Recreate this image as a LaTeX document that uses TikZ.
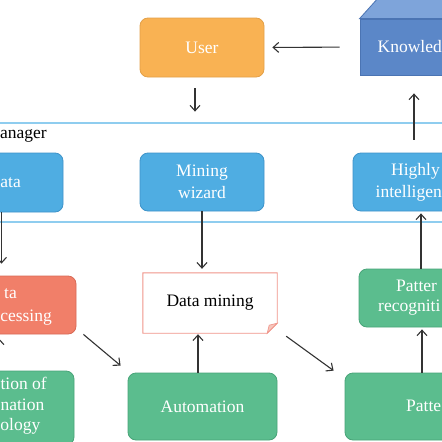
\documentclass[tikz,border=0pt]{standalone}
\usepackage{fontspec}
\setmainfont{Liberation Serif}
\usetikzlibrary{arrows.meta}
\definecolor{cOrange}{HTML}{F9B253}
\definecolor{cOrangeD}{HTML}{E3A048}
\definecolor{cBlue}{HTML}{4FADE2}
\definecolor{cBlueD}{HTML}{3E93C9}
\definecolor{cKnF}{HTML}{5B87C8}
\definecolor{cKnT}{HTML}{7EA4DA}
\definecolor{cKnD}{HTML}{4B74B3}
\definecolor{cSalmon}{HTML}{F17F69}
\definecolor{cSalmonD}{HTML}{D86A56}
\definecolor{cGreen}{HTML}{5BBD8E}
\definecolor{cGreenD}{HTML}{48A478}
\definecolor{cPink}{HTML}{F0958A}
\definecolor{cFold}{HTML}{F7C6BC}
\definecolor{cSep}{HTML}{8FCDEF}
\definecolor{cArrow}{HTML}{333333}
\newcommand\diagfont{\fontsize{17.5}{21.5}\selectfont}
\tikzset{
  box/.style={rounded corners=8pt, line width=0.8pt, inner sep=0pt, text=white, align=center, font=\diagfont},
  bluebox/.style={box, fill=cBlue, draw=cBlueD},
  orangebox/.style={box, fill=cOrange, draw=cOrangeD},
  salmonbox/.style={box, fill=cSalmon, draw=cSalmonD},
  greenbox/.style={box, fill=cGreen, draw=cGreenD},
  frag/.style={inner sep=0pt, font=\diagfont, text=white},
  arr/.style={draw=cArrow, line width=1.1pt, -{Straight Barb[length=5.5pt,width=10pt]}},
  sepline/.style={draw=cSep, line width=1.4pt},
}
\begin{document}
\begin{tikzpicture}[x=1pt,y=-1pt]
\useasboundingbox (0,0) rectangle (442,442);
\clip (0,0) rectangle (442,442);
\fill[white] (0,0) rectangle (442,442);
% separator lines
\coordinate (s1l) at (0,123); \coordinate (s1r) at (442,123);
\coordinate (s2l) at (0,222); \coordinate (s2r) at (442,222);
\draw[sepline] (s1l) -- (s1r);
\draw[sepline] (s2l) -- (s2r);
\node[anchor=base east, inner sep=0pt, font=\diagfont, text=black] (mgr) at (47,138) {anager};
% row 1
\node[orangebox, minimum width=124pt, minimum height=59pt] (user) at (202,47.5) {User};
\node[draw=cKnD, fill=cKnF, line width=0.8pt, inner sep=0pt, minimum width=140pt, minimum height=56pt] (kn) at (430,47) {};
\filldraw[draw=cKnD, fill=cKnT, line width=0.8pt] (kn.north west) -- ++(18,-20) -- ++(140,0) -- (kn.north east) -- cycle;
\node[frag, anchor=base west] (knt) at (377.5,52) {Knowled};
% row 2
\node[bluebox, minimum width=123pt, minimum height=59pt] (data) at (1.5,182.5) {};
\node[frag, anchor=base east] (datat) at (21,187.5) {ata};
\node[bluebox, minimum width=124pt, minimum height=58pt] (mw) at (202,182) {Mining\\wizard};
\node[bluebox, minimum width=122pt, minimum height=58pt] (hi) at (414,182) {};
\node[frag, anchor=base west] (hit1) at (391,175) {Highly};
\node[frag, anchor=base west] (hit2) at (375.5,197) {intelligen};
% row 3
\node[salmonbox, minimum width=154pt, minimum height=58pt] (dp) at (-1,305) {};
\node[frag, anchor=base east] (dpt1) at (17,298) {ta};
\node[frag, anchor=base east] (dpt2) at (52,321) {cessing};
\node[inner sep=0pt, minimum width=134pt, minimum height=60pt] (dm) at (210,303) {};
\draw[draw=cPink, line width=0.9pt, fill=white] (dm.north west) -- (dm.north east) -- ([yshift=10pt]dm.south east) -- ([xshift=-10pt]dm.south east) -- (dm.south west) -- cycle;
\node[inner sep=0pt, font=\diagfont, text=black] (dmt) at (dm) {Data mining};
\filldraw[draw=cPink, fill=cFold, line width=0.7pt] ([yshift=10pt]dm.south east) -- ([xshift=-10pt]dm.south east) -- ([shift={(-8pt,8pt)}]dm.south east) -- cycle;
\node[greenbox, minimum width=120pt, minimum height=58pt] (pr) at (419,298) {};
\node[frag, anchor=base west] (prt1) at (396,291) {Patter};
\node[frag, anchor=base west] (prt2) at (378,311) {recogniti};
% row 4
\node[greenbox, minimum width=150pt, minimum height=74pt] (re) at (-1,408) {};
\node[frag, anchor=base east] (ret1) at (47,389) {tion of};
\node[frag, anchor=base east] (ret2) at (44.5,410) {nation};
\node[frag, anchor=base east] (ret3) at (40.5,430) {ology};
\node[greenbox, minimum width=149pt, minimum height=67pt] (au) at (202.5,406.5) {Automation};
\node[greenbox, minimum width=172pt, minimum height=67pt] (pa) at (431,406.5) {};
\node[frag, anchor=base west] (pat) at (406,411) {Patte};
% connectors
\draw[arr, shorten <=20pt, shorten >=8pt] (kn.west) -- (user.east);
\draw[arr, shorten <=11pt, shorten >=41pt] ([xshift=-7pt]user.south) -- ([xshift=-7pt]mw.north);
\draw[arr, shorten <=13pt, shorten >=18pt] (hi.north) -- (hi.north |- kn.south);
\draw[arr, shorten >=12pt] (data.south) -- (data.south |- dp.north);
\draw[arr, shorten >=4pt] (mw.south) -- (mw.south |- dm.north);
\draw[arr, shorten >=4pt] (re.north) -- (re.north |- dp.south);
\draw[arr] ([xshift=7pt]dp.south east) -- ([shift={(-7pt,7pt)}]au.north west);
\draw[arr, shorten >=1pt] ([xshift=-4.5pt]au.north) -- ([xshift=-4.5pt]au.north |- dm.south);
\draw[arr] ([shift={(9pt,-3pt)}]dm.south east) -- ([shift={(-11pt,2pt)}]pa.north west);
\draw[arr, shorten >=2pt] ([xshift=3pt]pr.south |- pa.north) -- ([xshift=3pt]pr.south);
\draw[arr, shorten >=2pt] ([xshift=2pt]pr.north) -- ([xshift=2pt]pr.north |- hi.south);
\end{tikzpicture}
\end{document}
